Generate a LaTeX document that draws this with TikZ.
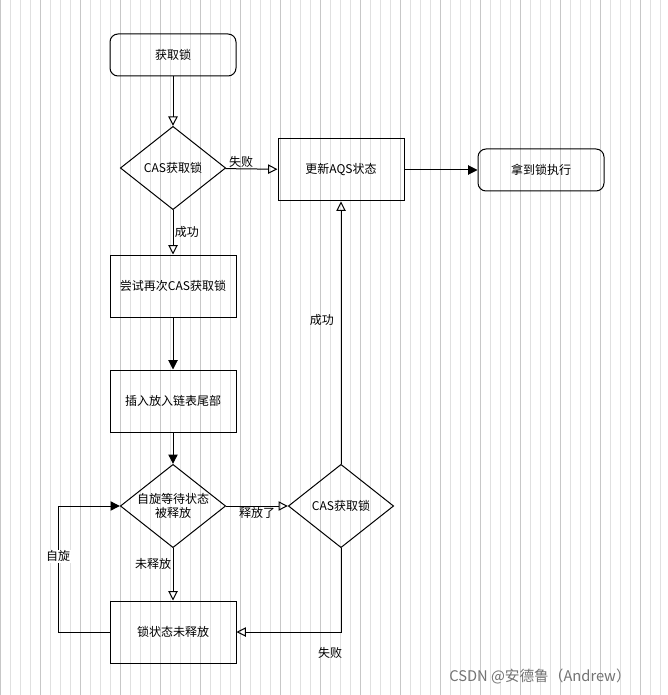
\documentclass[tikz,border=0pt]{standalone}
\usepackage{fontspec}
\setmainfont{Noto Sans CJK SC}
\usetikzlibrary{shapes.geometric,arrows.meta}
\begin{document}
\begin{tikzpicture}[x=0.75pt,y=-0.75pt,font=\fontsize{9}{11}\selectfont,
 box/.style={draw,line width=0.75pt,minimum width=94.5pt,minimum height=46.5pt,inner sep=0pt,align=center},
 rbox/.style={box,rounded corners=6pt,minimum height=31.5pt},
 dia/.style={draw,diamond,line width=0.75pt,minimum width=79pt,minimum height=62.5pt,inner sep=0pt,align=center,aspect=1.26},
 oa/.style={draw,line width=0.75pt,-{Triangle[open,length=7pt,width=7pt]}},
 fa/.style={draw,line width=0.75pt,-{Triangle[length=7pt,width=7pt]}},
 lab/.style={inner sep=1pt}]
\useasboundingbox (0,0) rectangle (667,695);
\fill[white] (0,0) rectangle (667,695);
\draw[black!12,line width=0.5pt,step=10] (0,0) grid (667,695);
\draw[black!22,line width=0.6pt,step=40] (0,0) grid (667,695);
\node[rbox] (get) at (173,55) {获取锁};
\node[dia] (cas1) at (173,168) {CAS获取锁};
\node[box] (upd) at (341,170) {更新AQS状态};
\node[rbox] (run) at (541,170) {拿到锁执行};
\node[box] (try) at (173,286) {尝试再次CAS获取锁};
\node[box] (ins) at (173,401) {插入放入链表尾部};
\node[dia] (spin) at (173,506) {自旋等待状态\\被释放};
\node[dia] (cas2) at (341,506) {CAS获取锁};
\node[box] (lock) at (173,632) {锁状态未释放};
\draw[oa] (get) -- (cas1);
\draw[oa] (cas1) -- node[lab,above,pos=0.3]{失败} (upd);
\draw[fa] (upd) -- (run);
\draw[oa] (cas1) -- node[lab,right,pos=0.5]{成功} (try);
\draw[fa] (try) -- (ins);
\draw[fa] (ins) -- (spin);
\draw[oa] (spin) -- node[lab,below,pos=0.5]{释放了} (cas2);
\draw[oa] (cas2) -- node[lab,left,pos=0.55,xshift=-4pt]{成功} (upd);
\draw[oa] (spin) -- node[lab,left,pos=0.3]{未释放} (lock);
\coordinate (fc) at (341,632);
\draw[oa] (cas2.south) -- (fc) -- (lock.east);
\node[lab] (fl) at (330,653) {失败};
\coordinate (lp) at (58,632);
\draw[fa] (lock.west) -- (lp) |- node[lab,pos=0.3,fill=white]{自旋} (spin.west);
\node[text=black!55,font=\fontsize{11}{13}\selectfont] (wm) at (540,676) {CSDN @安德鲁（Andrew）};
\end{tikzpicture}
\end{document}
